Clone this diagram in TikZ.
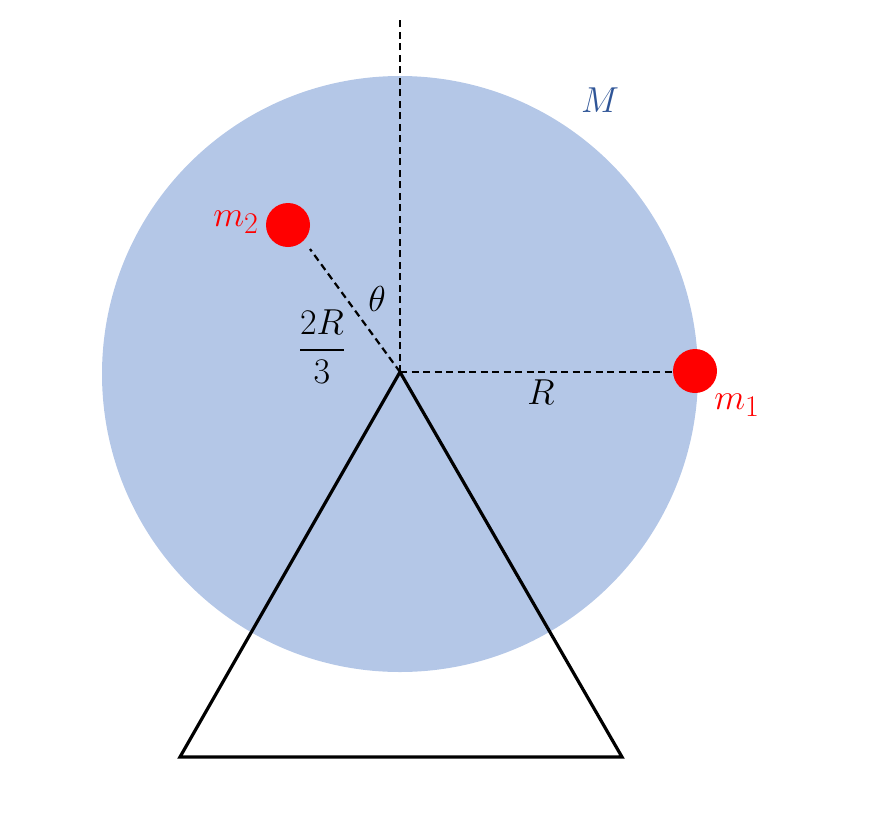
\documentclass[tikz,border=0pt]{standalone}
\usepackage{tikz}
\usepackage{amsmath}
\definecolor{disk}{HTML}{B4C7E7}
\definecolor{mblue}{HTML}{2F5597}
\definecolor{mred}{HTML}{FF0000}
\tikzset{
  dline/.style={black, line width=2.2pt, dash pattern=on 7pt off 4.5pt},
  mass/.style={circle, fill=mred, minimum size=44pt, inner sep=0pt},
  lbl/.style={inner sep=0pt, font=\Huge, scale=1.45},
}
\begin{document}
\begin{tikzpicture}[x=1pt,y=-1pt]
\useasboundingbox (0,0) rectangle (884,812);
\fill[disk] (400,374) circle (298);
\coordinate (O) at (400,372);
\coordinate (top) at (400,16);
\coordinate (A) at (180,757);
\coordinate (B) at (622,757);
\node[mass] (m1) at (695,371) {};
\node[mass] (m2) at (288,225) {};
\coordinate (s2) at (310,249);
\coordinate (e1) at (674,372);
\draw[dline] (O) -- (top);
\draw[dline] (O) -- (e1);
\draw[dline] (O) -- (s2);
\draw[line width=3.2pt, line join=miter] (O) -- (A) -- (B) -- cycle;
\node[lbl, text=mblue] (M) at (600,100) {$M$};
\node[lbl, text=mred] (l2) at (236,222) {$m_2$};
\node[lbl, text=mred] (l1) at (737,405) {$m_1$};
\node[lbl] (th) at (377,299) {$\theta$};
\node[lbl] (fr) at (322,347) {$\dfrac{2R}{3}$};
\node[lbl] (r) at (541,392) {$R$};
\end{tikzpicture}
\end{document}
